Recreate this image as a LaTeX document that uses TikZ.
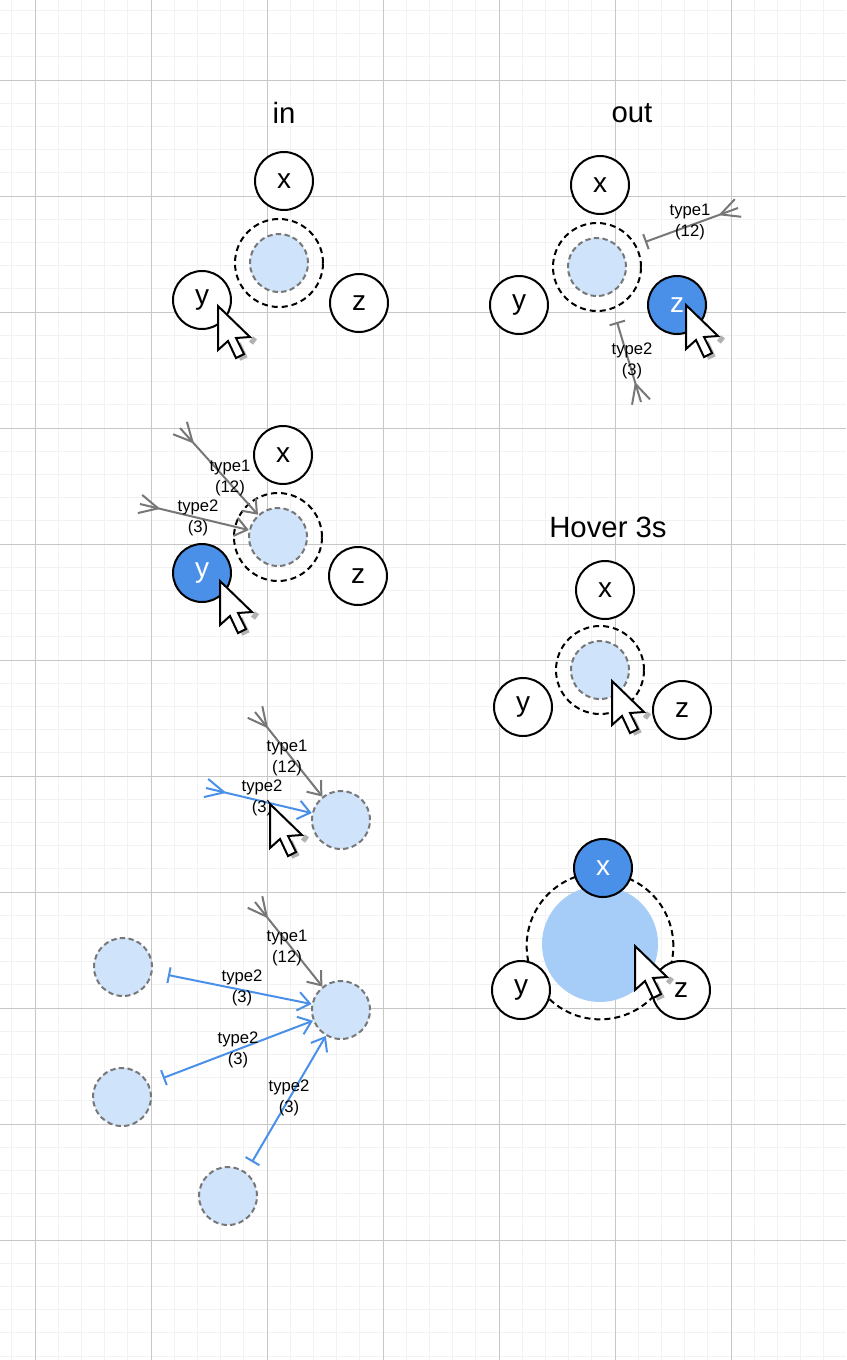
\documentclass[tikz,border=0pt]{standalone}
\usepackage{fontspec}
\setmainfont{Liberation Sans}
\usetikzlibrary{arrows.meta,calc}
\definecolor{lb}{HTML}{CFE3FB}
\definecolor{bl}{HTML}{4A90E9}
\definecolor{big}{HTML}{A6CDF7}
\definecolor{eg}{HTML}{777777}
\tikzset{
  vnode/.style={circle,draw=black,line width=1.5pt,fill=white,minimum size=43.5pt,inner sep=0pt,font=\fontsize{21}{22}\selectfont},
  selnode/.style={vnode,fill=bl,text=white},
  ghost/.style={circle,draw=eg,dash pattern=on 4pt off 2.5pt,line width=1.5pt,fill=lb,minimum size=43.5pt,inner sep=0pt},
  ring/.style={draw=black,line width=1.5pt,dash pattern=on 4.5pt off 3pt},
  title/.style={font=\fontsize{22}{24}\selectfont},
  lab/.style={font=\fontsize{12.5}{16}\selectfont,align=center,inner sep=0pt},
  gedge/.style={draw=eg,line width=1.5pt,-{Straight Barb[length=9pt,width=14pt]}},
  gline/.style={draw=eg,line width=1.5pt},
  bedge/.style={draw=bl,line width=1.5pt,{Bar[width=12pt]}-{Straight Barb[length=9pt,width=14pt]}},
  bedgeT/.style={draw=bl,line width=1.5pt,-{Straight Barb[length=9pt,width=14pt]}},
  bedgeO/.style={draw=eg,line width=1.5pt,{Bar[width=12pt]}-},
  cursor/.pic={
    \draw[black!30,line width=6pt,line cap=butt] (19,38) -- (26,53);
    \draw[black!30,line width=5pt] (33,33) -- (37,36);
    \draw[fill=white,line width=1.5pt,line join=miter] (0,0) -- (0,44) -- (10,35) -- (18,52) -- (26,48) -- (18,32) -- (32,31) -- cycle;
  }
}
\newcommand{\crowfoot}[3]{% end, other, colour
  \draw[#3,line width=1.5pt] ($(#1)!14pt!(#2)$) -- ($(#1)!7pt!90:(#2)$);
  \draw[#3,line width=1.5pt] ($(#1)!14pt!(#2)$) -- ($(#1)!7pt!-90:(#2)$);
}
\begin{document}
\begin{tikzpicture}[x=0.75pt,y=-0.75pt]
\useasboundingbox (0,0) rectangle (846,1360);
\fill[white] (0,0) rectangle (846,1360);
% grid
\foreach \i in {-1,...,36} {\draw[black!5,line width=0.75pt] ({35+23.2*\i},0) -- ({35+23.2*\i},1360);}
\foreach \i in {-3,...,55} {\draw[black!5,line width=0.75pt] (0,{80+23.2*\i}) -- (846,{80+23.2*\i});}
\foreach \i in {0,...,7} {\draw[black!22,line width=0.75pt] ({35+116*\i},0) -- ({35+116*\i},1360);}
\foreach \i in {0,...,10} {\draw[black!22,line width=0.75pt] (0,{80+116*\i}) -- (846,{80+116*\i});}

% ---- panel in
\node[title] (tin) at (284,113) {in};
\node[vnode] (ax) at (284,181) {x};
\draw[ring] (279,263) circle[radius=33pt];
\node[ghost] (ac) at (279,263) {};
\node[vnode] (ay) at (202,300) {y};
\node[vnode] (az) at (359,303) {z};
\pic at (218,306) {cursor};

% ---- panel out
\node[title] (tout) at (632,113) {out};
\node[vnode] (bx) at (600,185) {x};
\draw[ring] (597,267) circle[radius=33pt];
\node[ghost] (bc) at (597,267) {};
\node[vnode] (by) at (519,305) {y};
\node[selnode] (bz) at (677,305) {z};
\coordinate (b1s) at (645,242);
\coordinate (b1e) at (738,208);
\coordinate (b2s) at (617,322);
\coordinate (b2e) at (641,402);
\draw[bedgeO] (b1s) -- (b1e);
\draw[bedgeO] (b2s) -- (b2e);
\crowfoot{b1e}{b1s}{eg}
\crowfoot{b2e}{b2s}{eg}
\node[lab] (bl1) at (690,222) {type1\\(12)};
\node[lab] (bl2) at (632,361) {type2\\(3)};
\pic at (686,305) {cursor};

% ---- panel 2 left
\node[vnode] (cx) at (283,455) {x};
\draw[ring] (278,537) circle[radius=33pt];
\node[ghost] (cc) at (278,537) {};
\node[selnode] (cy) at (202,573) {y};
\node[vnode] (cz) at (358,576) {z};
\coordinate (c1s) at (180,428);
\coordinate (c2s) at (140,504);
\draw[gedge] (c1s) -- (cc);
\draw[gedge] (c2s) -- (cc);
\crowfoot{c1s}{cc}{eg}
\crowfoot{c2s}{cc}{eg}
\node[lab] (cl1) at (230,478) {type1\\(12)};
\node[lab] (cl2) at (198,518) {type2\\(3)};
\pic at (220,581) {cursor};

% ---- hover 3s
\node[title] (th) at (608,527) {Hover 3s};
\node[vnode] (dx) at (605,590) {x};
\draw[ring] (600,670) circle[radius=33pt];
\node[ghost] (dc) at (600,670) {};
\node[vnode] (dy) at (523,707) {y};
\node[vnode] (dz) at (682,710) {z};
\pic at (612,681) {cursor};

% ---- panel 3 left
\node[ghost] (ec) at (341,820) {};
\coordinate (e1s) at (255,712);
\coordinate (e2s) at (206,788);
\draw[gedge] (e1s) -- (ec);
\crowfoot{e1s}{ec}{eg}
\draw[bedgeT] (e2s) -- (ec);
\crowfoot{e2s}{ec}{bl}
\node[lab] (el1) at (287,758) {type1\\(12)};
\node[lab] (el2) at (262,798) {type2\\(3)};
\pic at (270,804) {cursor};

% ---- bottom right
\draw[ring] (600,946) circle[radius=55pt];
\fill[big] (600,944) circle[radius=43.5pt];
\coordinate (fc) at (600,944);
\node[selnode] (fx) at (603,868) {x};
\node[vnode] (fy) at (521,990) {y};
\node[vnode] (fz) at (681,990) {z};
\pic at (635,946) {cursor};

% ---- bottom left
\node[ghost] (gc) at (341,1010) {};
\node[ghost] (g1) at (123,967) {};
\node[ghost] (g2) at (122,1097) {};
\node[ghost] (g3) at (228,1196) {};
\coordinate (h0s) at (255,902);
\draw[gedge] (h0s) -- (gc);
\crowfoot{h0s}{gc}{eg}
\coordinate (h1) at (168,975);
\coordinate (h2) at (163,1078);
\coordinate (h3) at (252,1162);
\draw[bedge] (h1) -- (gc);
\draw[bedge] (h2) -- (gc);
\draw[bedge] (h3) -- (gc);
\node[lab] (gl0) at (287,948) {type1\\(12)};
\node[lab] (gl1) at (242,988) {type2\\(3)};
\node[lab] (gl2) at (238,1050) {type2\\(3)};
\node[lab] (gl3) at (289,1098) {type2\\(3)};
\end{tikzpicture}
\end{document}
